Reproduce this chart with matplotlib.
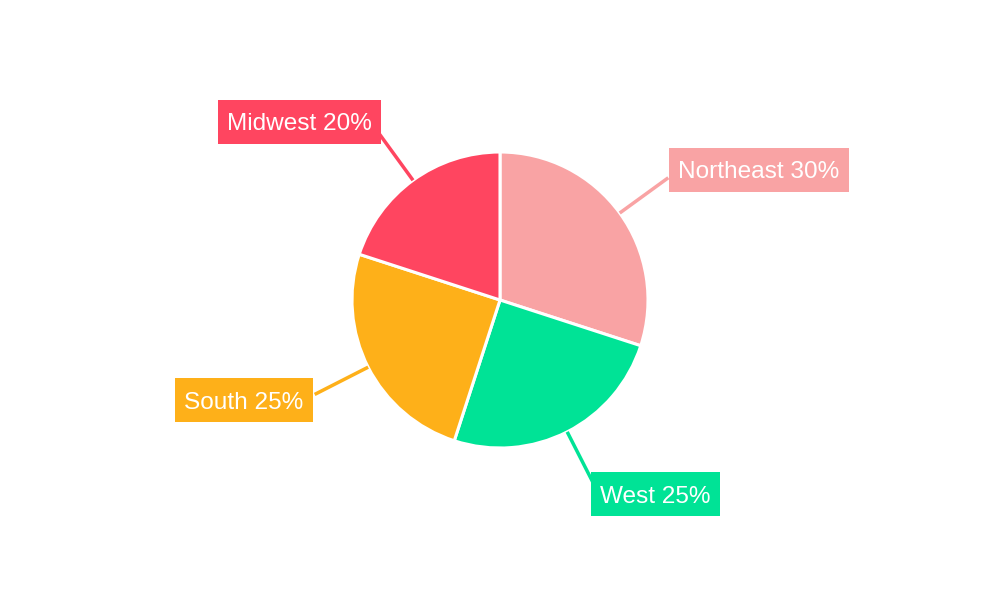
import numpy as np
import matplotlib
matplotlib.use("Agg")
import matplotlib.pyplot as plt
from matplotlib.patches import Rectangle

categories = ["Northeast", "West", "South", "Midwest"]
values = [30, 25, 25, 20]
colors = ["#F9A3A4", "#00E396", "#FEB019", "#FF4560"]

plt.rcParams['font.family'] = ['Liberation Sans', 'DejaVu Sans']

fig = plt.figure(figsize=(10, 6), dpi=100)
ax = fig.add_axes([0, 0, 1, 1])
ax.set_xlim(0, 1000)
ax.set_ylim(0, 600)
ax.set_aspect('equal')
ax.axis('off')

cx, cy, R = 500, 300, 148
wedges, _ = ax.pie(values, colors=colors, startangle=90, counterclock=False,
                   radius=R, center=(cx, cy),
                   wedgeprops=dict(edgecolor='white', linewidth=2.2))
ax.set_xlim(0, 1000)
ax.set_ylim(0, 600)

# label box edge offsets from leader line end (pixels, x right / y up)
offsets = [(1, 8, 'left'), (-3, -9, 'left'), (-2, -6, 'right'), (3, 10, 'right')]
padx, box_h, text_dy = 9, 44, -2.5
total = sum(values)
start = 0.0
r_end = 208
texts = []
for i, (cat, v, col) in enumerate(zip(categories, values, colors)):
    mid = start + v / total * 180.0
    start += v / total * 360.0
    th = np.deg2rad(mid)
    dx, dy = np.sin(th), np.cos(th)
    x0, y0 = cx + R * dx, cy + R * dy
    x1, y1 = cx + r_end * dx, cy + r_end * dy
    ax.plot([x0, x1], [y0, y1], color=col, lw=2.5, solid_capstyle='butt', zorder=1)
    ox, oy, ha = offsets[i]
    tx = x1 + ox + (padx if ha == 'left' else -padx)
    t = ax.text(tx, y1 + oy + text_dy, f"{cat} {v}%", ha=ha, va='center', color='white',
                fontsize=17.6, zorder=6)
    texts.append((t, col, y1 + oy))

fig.canvas.draw()
renderer = fig.canvas.get_renderer()
inv = ax.transData.inverted()
for t, col, yc in texts:
    bb = t.get_window_extent(renderer)
    (xa, _), (xb, _) = inv.transform([[bb.x0, bb.y0], [bb.x1, bb.y1]])
    ax.add_patch(Rectangle((xa - padx, yc - box_h / 2), (xb - xa) + 2 * padx, box_h,
                           facecolor=col, edgecolor='none', zorder=5))

fig.savefig("out.png", dpi=100)
